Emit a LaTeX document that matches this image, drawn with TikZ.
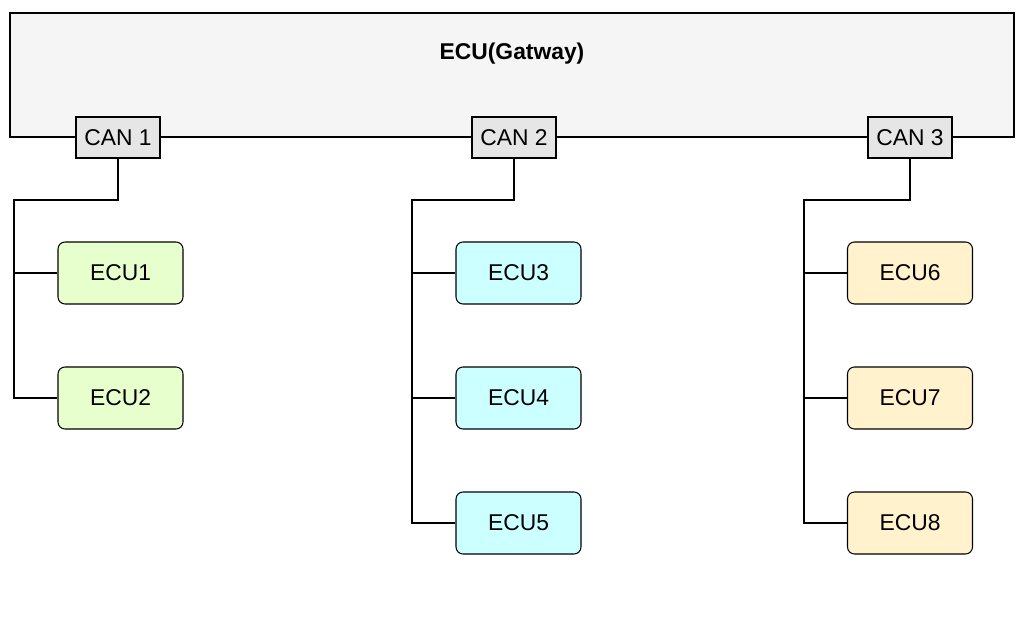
\documentclass[tikz,border=0pt]{standalone}
\usepackage{fontspec}
\setmainfont{Liberation Sans}
\usetikzlibrary{calc}
\definecolor{gwfill}{HTML}{F5F5F5}
\definecolor{canfill}{HTML}{E6E6E6}
\definecolor{grn}{HTML}{E6FFCC}
\definecolor{cyn}{HTML}{CCFFFF}
\definecolor{org}{HTML}{FFF2CC}
\tikzset{
  can/.style={draw,fill=canfill,minimum width=84*0.02cm,minimum height=41*0.02cm,inner sep=0pt,font=\fontsize{13}{15}\selectfont},
  ecu/.style={draw,rounded corners=4pt,minimum width=125*0.02cm,minimum height=62*0.02cm,inner sep=0pt,font=\fontsize{13}{15}\selectfont},
  bus/.style={line width=0.6pt}
}
\begin{document}
\begin{tikzpicture}[x=0.02cm,y=-0.02cm,line width=0.6pt]
\useasboundingbox (0,0) rectangle (1026,617);
\draw[fill=gwfill] (10,13) rectangle (1014,137);
\node[font=\bfseries\fontsize{13}{15}\selectfont] (gw) at (512,54) {ECU(Gatway)};
\node[can] (can1) at (118,137.5) {CAN 1};
\node[can] (can2) at (514,137.5) {CAN 2};
\node[can] (can3) at (910,137.5) {CAN 3};
% CAN 1
\node[ecu,fill=grn] (ecu1) at (120.5,273) {ECU1};
\node[ecu,fill=grn] (ecu2) at (120.5,398) {ECU2};
\draw[bus] (can1.south) |- (14,200) |- (ecu2.west);
\draw[bus] (14,273) -- (ecu1.west);
% CAN 2
\node[ecu,fill=cyn] (ecu3) at (518.5,273) {ECU3};
\node[ecu,fill=cyn] (ecu4) at (518.5,398) {ECU4};
\node[ecu,fill=cyn] (ecu5) at (518.5,523) {ECU5};
\draw[bus] (can2.south) |- (412,200) |- (ecu5.west);
\draw[bus] (412,273) -- (ecu3.west);
\draw[bus] (412,398) -- (ecu4.west);
% CAN 3
\node[ecu,fill=org] (ecu6) at (910,273) {ECU6};
\node[ecu,fill=org] (ecu7) at (910,398) {ECU7};
\node[ecu,fill=org] (ecu8) at (910,523) {ECU8};
\draw[bus] (can3.south) |- (804,200) |- (ecu8.west);
\draw[bus] (804,273) -- (ecu6.west);
\draw[bus] (804,398) -- (ecu7.west);
\end{tikzpicture}
\end{document}
